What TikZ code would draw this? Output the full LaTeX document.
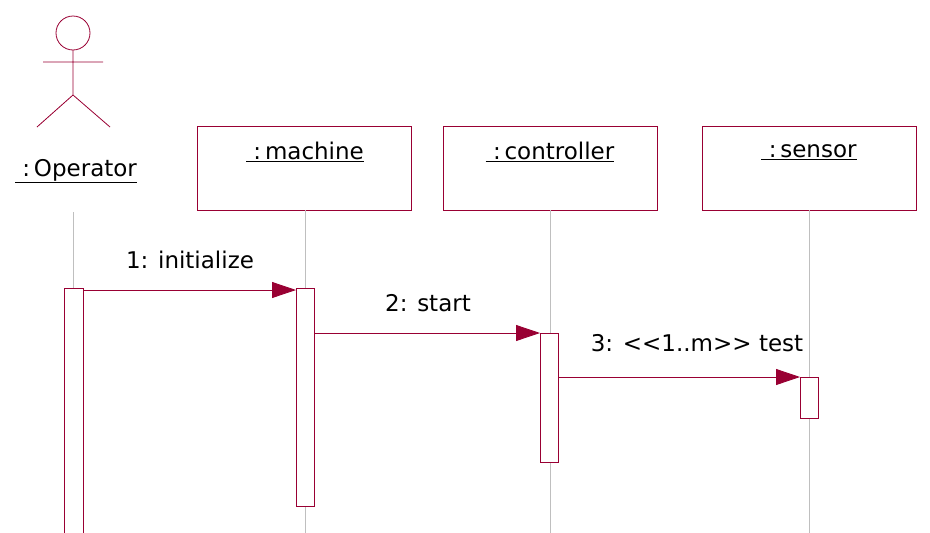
\documentclass[tikz,border=0pt]{standalone}
\usepackage{fontspec}
\setmainfont{DejaVu Sans}[Ligatures=NoCommon]
\usetikzlibrary{arrows.meta}
\definecolor{umlred}{HTML}{990033}
\begin{document}
\begin{tikzpicture}[x=1pt,y=-1pt,
  obj/.style={draw=umlred,line width=0.8pt,minimum width=214pt,minimum height=84pt,anchor=north west,inner sep=0pt},
  life/.style={draw=black!25,line width=0.6pt},
  act/.style={draw=umlred,fill=white,line width=0.8pt},
  msg/.style={draw=umlred,line width=0.8pt,-{Triangle[length=24pt,width=16pt,fill=umlred]}},
  lbl/.style={font=\fontsize{23}{27}\selectfont,inner sep=0pt}]
\useasboundingbox (0,0) rectangle (930,533);
% actor
\draw[umlred,line width=0.8pt] (73,33) circle (17);
\draw[umlred,line width=0.8pt] (73,50)--(73,95) (43,62)--(103,62) (37,127)--(73,95)--(110,127);
\node[lbl] (op) at (76,171) {\underline{\ :\,Operator}};
% objects
\node[obj] (m) at (197,126) {};
\node[obj] (c) at (443,126) {};
\node[obj] (s) at (702,126) {};
\node[lbl] at (305,152) {\underline{\ :\,machine}};
\node[lbl] at (550,152) {\underline{\ :\,controller}};
\node[lbl] at (809,152) {\underline{\ :\,sensor}};
% lifelines
\draw[life] (73,212)--(73,533);
\draw[life] (305,210)--(305,533);
\draw[life] (550,210)--(550,533);
\draw[life] (809,210)--(809,533);
% activations
\draw[act] (83,540)--(83,288)--(64,288)--(64,540);
\draw[act] (296,288) rectangle (314,506);
\draw[act] (540,333) rectangle (558,462);
\draw[act] (800,377) rectangle (818,418);
\coordinate (a1) at (83,290); \coordinate (b1) at (296,290);
\coordinate (a2) at (314,333); \coordinate (b2) at (540,333);
\coordinate (a3) at (558,377); \coordinate (b3) at (800,377);
\draw[msg] (a1)--(b1);
\draw[msg] (a2)--(b2);
\draw[msg] (a3)--(b3);
\node[lbl] at (190,260) {1: initialize};
\node[lbl] at (428,303) {2: start};
\node[lbl] at (697,343) {3: {<}{<}1..m{>}{>} test};
\end{tikzpicture}
\end{document}
